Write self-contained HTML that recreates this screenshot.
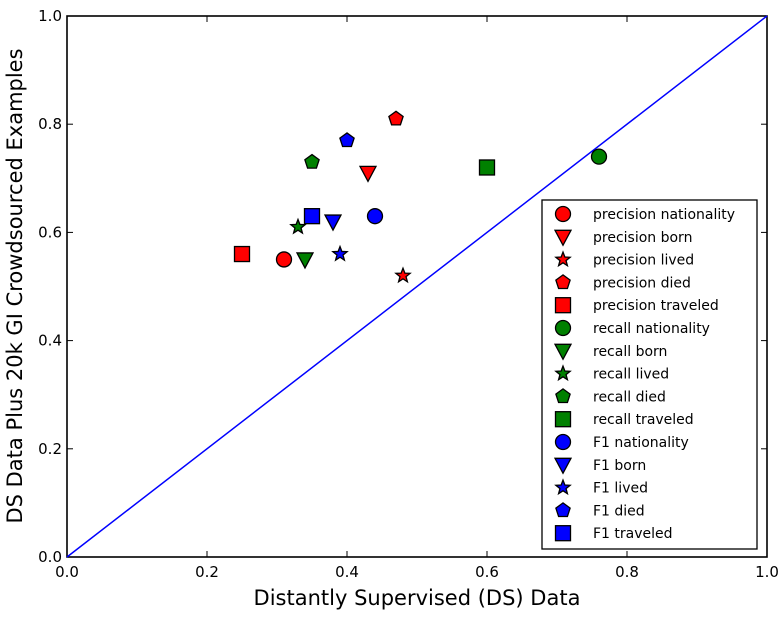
<!DOCTYPE html>
<html><head><meta charset="utf-8"><style>
body{margin:0;background:#fff}
text{font-family:"DejaVu Sans","Liberation Sans",sans-serif;fill:#000}
</style></head><body>
<svg id="c" width="783" height="614" xmlns="http://www.w3.org/2000/svg"></svg>
<script>
const labels=["precision nationality","precision born","precision lived","precision died","precision traveled","recall nationality","recall born","recall lived","recall died","recall traveled","F1 nationality","F1 born","F1 lived","F1 died","F1 traveled"];
const xVals=[0.31,0.43,0.48,0.47,0.25,0.76,0.34,0.33,0.35,0.60,0.44,0.38,0.39,0.40,0.35];
const yVals=[0.55,0.71,0.52,0.81,0.56,0.74,0.55,0.61,0.73,0.72,0.63,0.62,0.56,0.77,0.63];
const colors=["#ff0000","#ff0000","#ff0000","#ff0000","#ff0000","#008000","#008000","#008000","#008000","#008000","#0000ff","#0000ff","#0000ff","#0000ff","#0000ff"];
const shapes=["circle","tri","star","pent","square","circle","tri","star","pent","square","circle","tri","star","pent","square"];
const ticks=[0,0.2,0.4,0.6,0.8,1.0];
const tickLabels=["0.0","0.2","0.4","0.6","0.8","1.0"];
const L=67,R=767,T=16,B=557;
const sx=v=>L+v*(R-L), sy=v=>B-v*(B-T);
const svg=document.getElementById('c');
const NS="http://www.w3.org/2000/svg";
function mk(t,a,p){const e=document.createElementNS(NS,t);for(const k in a)e.setAttribute(k,a[k]);(p||svg).appendChild(e);return e;}
function marker(shape,x,y,col,name){
 let e;const st={fill:col,stroke:"#000","stroke-width":1.3};
 if(shape=="circle")e=mk("circle",Object.assign({cx:x,cy:y,r:7.5},st));
 else if(shape=="square")e=mk("rect",Object.assign({x:x-7.5,y:y-7.5,width:15,height:15},st));
 else{let pts=[];
  if(shape=="tri")pts=[[x-8,y-6.5],[x+8,y-6.5],[x,y+8.5]];
  else if(shape=="pent")for(let i=0;i<5;i++){const a=-Math.PI/2+i*2*Math.PI/5;pts.push([x+7.5*Math.cos(a),y+7.5*Math.sin(a)]);}
  else for(let i=0;i<10;i++){const a=-Math.PI/2+i*Math.PI/5,r=i%2?3.2:7.5;pts.push([x+r*Math.cos(a),y+r*Math.sin(a)]);}
  e=mk("polygon",Object.assign({points:pts.map(p=>p.join(",")).join(" ")},st));}
 
 
}
const frame=mk("rect",{x:L,y:T,width:R-L,height:B-T,fill:"none",stroke:"#000","stroke-width":1.6});


ticks.forEach((t,i)=>{
 mk("line",{x1:sx(t),x2:sx(t),y1:B,y2:B-6,stroke:"#000"});
 mk("line",{x1:sx(t),x2:sx(t),y1:T,y2:T+6,stroke:"#000"});
 mk("line",{x1:L,x2:L+6,y1:sy(t),y2:sy(t),stroke:"#000"});
 mk("line",{x1:R,x2:R-6,y1:sy(t),y2:sy(t),stroke:"#000"});
 const xt=mk("text",{x:sx(t),y:B+20,"text-anchor":"middle","font-size":15});xt.textContent=tickLabels[i];
 
 
 const yt=mk("text",{x:L-5,y:sy(t)+5,"text-anchor":"end","font-size":15});yt.textContent=tickLabels[i];
 
 
});
const diag=mk("line",{x1:sx(0),y1:sy(0),x2:sx(1),y2:sy(1),stroke:"#0000ff","stroke-width":1.5});


labels.forEach((l,i)=>marker(shapes[i],sx(xVals[i]),sy(yVals[i]),colors[i],'point-'+l.replace(/ /g,'-')));
const xl=mk("text",{x:417,y:605,"text-anchor":"middle","font-size":21});xl.textContent="Distantly Supervised (DS) Data";


const yl=mk("text",{x:0,y:0,"text-anchor":"middle","font-size":21,transform:"translate(22,286) rotate(-90)"});yl.textContent="DS Data Plus 20k GI Crowdsourced Examples";


const g=mk("g",{});


mk("rect",{x:542,y:200,width:215,height:349,fill:"#fff",stroke:"#000","stroke-width":1.3},g);
labels.forEach((l,i)=>{
 const y=214+i*22.8;
 marker(shapes[i],563,y,colors[i],'legend-marker');
 const t=mk("text",{x:593,y:y+5,"font-size":14},g);t.textContent=l;
 
 
});
</script>
</body></html>
